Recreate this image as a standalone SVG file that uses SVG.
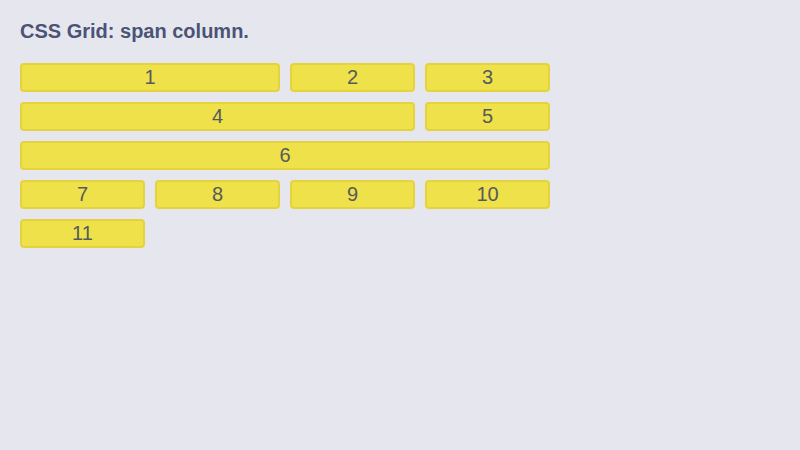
<svg xmlns="http://www.w3.org/2000/svg" width="800" height="450" viewBox="0 0 800 450">
<style>
.bg{fill:#e6e7ee}
.title{font-family:"Liberation Sans",Arial,sans-serif;font-size:20px;font-weight:bold;fill:#4b5376}
.cell rect{fill:#efe149;stroke:#e4d33f;stroke-width:2}
.cell text{font-family:"Liberation Sans",Arial,sans-serif;font-size:20px;fill:#555a5f;text-anchor:middle}
</style>
<rect class="bg" x="0" y="0" width="800" height="450"/>
<text class="title" x="20" y="38">CSS Grid: span column.</text>
<g id="item1" class="cell"><rect x="21" y="64" width="258" height="27" rx="3"/><text x="150" y="84">1</text></g>
<g id="item2" class="cell"><rect x="291" y="64" width="123" height="27" rx="3"/><text x="352.5" y="84">2</text></g>
<g id="item3" class="cell"><rect x="426" y="64" width="123" height="27" rx="3"/><text x="487.5" y="84">3</text></g>
<g id="item4" class="cell"><rect x="21" y="103" width="393" height="27" rx="3"/><text x="217.5" y="123">4</text></g>
<g id="item5" class="cell"><rect x="426" y="103" width="123" height="27" rx="3"/><text x="487.5" y="123">5</text></g>
<g id="item6" class="cell"><rect x="21" y="142" width="528" height="27" rx="3"/><text x="285" y="162">6</text></g>
<g id="item7" class="cell"><rect x="21" y="181" width="123" height="27" rx="3"/><text x="82.5" y="201">7</text></g>
<g id="item8" class="cell"><rect x="156" y="181" width="123" height="27" rx="3"/><text x="217.5" y="201">8</text></g>
<g id="item9" class="cell"><rect x="291" y="181" width="123" height="27" rx="3"/><text x="352.5" y="201">9</text></g>
<g id="item10" class="cell"><rect x="426" y="181" width="123" height="27" rx="3"/><text x="487.5" y="201">10</text></g>
<g id="item11" class="cell"><rect x="21" y="220" width="123" height="27" rx="3"/><text x="82.5" y="240">11</text></g>
<g id="connectors"/>
</svg>
